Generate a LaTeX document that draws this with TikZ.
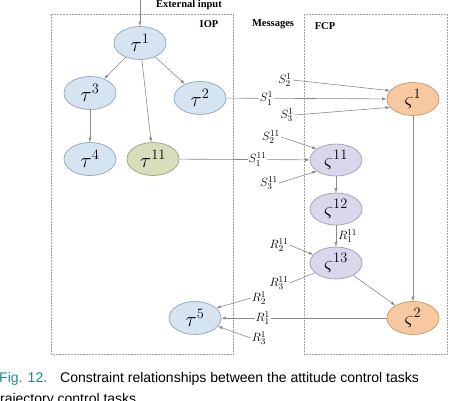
\documentclass[tikz,border=0pt]{standalone}
\usepackage{amsmath,amssymb}
\usepackage{fontspec}
\setmainfont{Liberation Serif}
\newfontfamily\capfont{Liberation Sans}
\usetikzlibrary{arrows.meta,calc,positioning,shapes.geometric}
\definecolor{TaskBlue}{HTML}{D6E4F1}
\definecolor{TaskBlueLine}{HTML}{8EA5BE}
\definecolor{TaskGreen}{HTML}{D8DEBB}
\definecolor{TaskGreenLine}{HTML}{98A178}
\definecolor{FlowOrange}{HTML}{F6C9A0}
\definecolor{FlowOrangeLine}{HTML}{C79467}
\definecolor{FlowLilac}{HTML}{D9D7EB}
\definecolor{FlowLilacLine}{HTML}{9E9AB8}
\definecolor{LinkGray}{HTML}{8A8A8A}
\definecolor{CapTeal}{HTML}{1F8C8A}

\tikzset{
  task/.style={ellipse, draw=TaskBlueLine, fill=TaskBlue, line width=0.7pt, minimum width=52pt, minimum height=33pt, inner sep=0pt, font=\fontsize{20}{24}\selectfont},
  link/.style={draw=LinkGray, line width=0.6pt, -{Latex[length=4.5pt,width=3.2pt]}},
  plainlink/.style={draw=LinkGray, line width=0.6pt},
  msg/.style={inner sep=1pt, font=\fontsize{12.5}{14}\selectfont},
  region/.style={draw=LinkGray!80, densely dotted, line width=0.5pt, inner sep=0pt},
  heading/.style={font=\fontsize{10.5}{12}\selectfont\bfseries, inner sep=0pt}
}

\begin{document}
\begin{tikzpicture}[x=1pt, y=-1pt]
    \useasboundingbox (0,0) rectangle (474,400);
    \clip (0,0) rectangle (474,400);

    % the two processors
    \node[region, minimum width=182pt, minimum height=340pt] (iop) at (142,184) {};
    \node[region, minimum width=143pt, minimum height=340pt] (fcp) at (375.5,184) {};
    \node[heading] (extlabel) at (189,5) {External input};
    \node[heading] (ioplabel) at (209,24) {IOP};
    \node[heading] (msglabel) at (273,24) {Messages};
    \node[heading] (fcplabel) at (325,26) {FCP};
    \coordinate (ext) at (140,-2);

    % IOP tasks
    \node[task] (t1) at (140,43) {$\tau^{1}$};
    \node[task] (t3) at (90,93) {$\tau^{3}$};
    \node[task] (t2) at (200,98) {$\tau^{2}$};
    \node[task] (t4) at (90,159) {$\tau^{4}$};
    \node[task, fill=TaskGreen, draw=TaskGreenLine] (t11) at (153,159) {$\tau^{11}$};
    \node[task] (t5) at (195,318) {$\tau^{5}$};

    % FCP tasks
    \node[task, fill=FlowOrange, draw=FlowOrangeLine] (c1) at (413,99) {$\varsigma^{1}$};
    \node[task, fill=FlowLilac, draw=FlowLilacLine, minimum height=32pt] (c11) at (336,160) {$\varsigma^{11}$};
    \node[task, fill=FlowLilac, draw=FlowLilacLine, minimum height=32pt] (c12) at (336,209) {$\varsigma^{12}$};
    \node[task, fill=FlowLilac, draw=FlowLilacLine, minimum height=32pt] (c13) at (336,263) {$\varsigma^{13}$};
    \node[task, fill=FlowOrange, draw=FlowOrangeLine] (c2) at (413,318) {$\varsigma^{2}$};

    % message labels
    \node[msg] (s21) at (285,80) {$S_2^1$};
    \node[msg] (s31) at (287,115) {$S_3^1$};
    \node[msg] (s211) at (271,137) {$S_2^{11}$};
    \node[msg] (s311) at (269,183) {$S_3^{11}$};
    \node[msg] (r211) at (279,245) {$R_2^{11}$};
    \node[msg] (r311) at (279,283) {$R_3^{11}$};
    \node[msg] (r21) at (259,298) {$R_2^1$};
    \node[msg] (r31) at (259,338) {$R_3^1$};

    % precedence inside IOP
    \draw[link] (ext) -- (t1);
    \draw[link] (t1) -- (t3);
    \draw[link] (t1) -- (t2);
    \draw[link] (t1) -- (t11);
    \draw[link] (t3) -- (t4);

    % messages to FCP
    \draw[link] (t2) -- node[msg, fill=white, pos=0.25] (s11) {$S_1^1$} (c1);
    \draw[link] (s21.east) -- (c1.160);
    \draw[link] (s31.east) -- (c1.200);
    \draw[link] (t11) -- node[msg, fill=white, pos=0.6] (s111) {$S_1^{11}$} (c11);
    \draw[link] (s211.east) -- (c11.150);
    \draw[link] (s311.east) -- (c11.210);

    % precedence inside FCP
    \draw[link] (c11) -- (c12);
    \draw[link] (c12) -- node[msg, right=1pt] (r111) {$R_1^{11}$} (c13);
    \draw[link] (r211.east) -- (c13.160);
    \draw[plainlink] (c13.205) -- (r311.east);
    \draw[link] (c13) -- (c2);
    \draw[link] (c1) -- (c2);

    % messages back to IOP
    \draw[link] (c2) -- node[msg, fill=white, pos=0.75] (r11) {$R_1^1$} (t5);
    \draw[link] (r21.west) -- (t5.25);
    \draw[link] (r31.west) -- (t5.-20);

    % caption
    \node[anchor=base west, inner sep=0pt, font=\capfont\fontsize{14}{16}\selectfont, text=CapTeal] (capnum) at (-1,382) {Fig. 12.};
    \node[anchor=base west, inner sep=0pt, font=\capfont\fontsize{14}{16}\selectfont] (captext) at (60,382) {Constraint relationships between the attitude control tasks};
    \node[anchor=base west, inner sep=0pt, font=\capfont\fontsize{14}{16}\selectfont] (captext2) at (-4,403) {trajectory control tasks};
\end{tikzpicture}
\end{document}
